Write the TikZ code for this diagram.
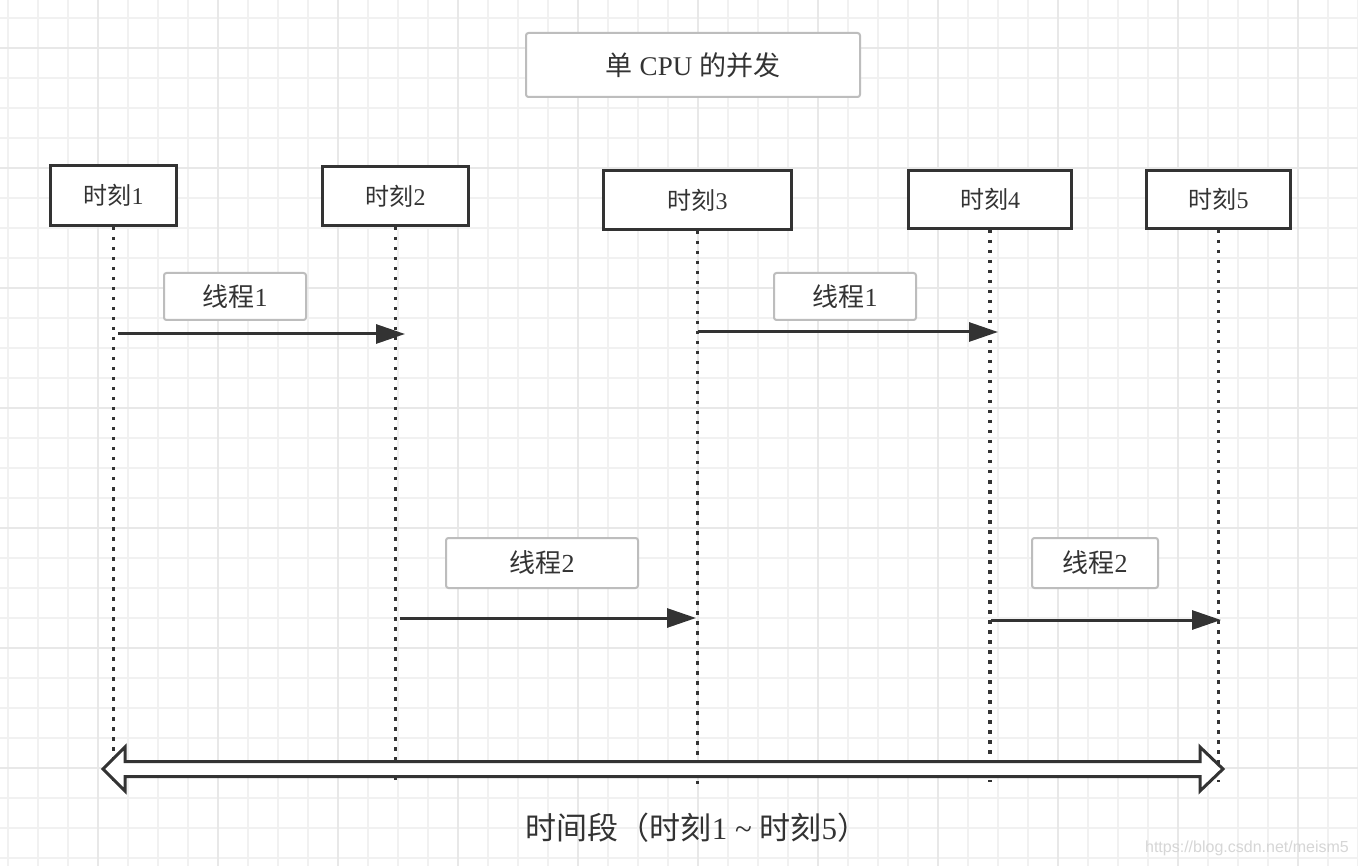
\documentclass[tikz,border=0pt]{standalone}
\usepackage{fontspec}
\setmainfont{Liberation Serif}
\newfontfamily\cjk{Noto Sans CJK SC}
\newfontfamily\wmfont{Liberation Sans}
\usetikzlibrary{arrows.meta,calc}
\definecolor{gridminor}{HTML}{F1F1F1}
\definecolor{gridmajor}{HTML}{E8E8E8}
\definecolor{boxc}{HTML}{333333}
\definecolor{lblc}{HTML}{BDBDBD}
\definecolor{wmc}{HTML}{D6D6D6}
\tikzset{
  gminor/.style={draw=gridminor, line width=1.2pt},
  gmajor/.style={draw=gridmajor, line width=1.4pt},
  tbox/.style={draw=boxc, line width=3pt, fill=white, inner sep=0pt, text=boxc, font=\fontsize{24}{28}\selectfont},
  lbox/.style={draw=lblc, line width=2pt, rounded corners=2.5pt, fill=white, inner sep=0pt, text=boxc, font=\fontsize{26}{30}\selectfont},
  lifeline/.style={draw=boxc, line width=3.5pt, dash pattern=on 3.5pt off 6.5pt},
  msg/.style={draw=boxc, line width=3pt, -{Triangle[length=29pt,width=19pt]}},
  dblarrow/.style={draw=boxc, line width=3pt, fill=white, line join=miter},
}
\begin{document}
\begin{tikzpicture}[x=1pt,y=-1pt]
\useasboundingbox (0,0) rectangle (1358,866);
\fill[white] (0,0) rectangle (1358,866);
% grid
\foreach \x in {8,38,...,1358} \draw[gminor] (\x,0) -- (\x,866);
\foreach \y in {18,48,...,866} \draw[gminor] (0,\y) -- (1358,\y);
\foreach \x in {98,218,...,1358} \draw[gmajor] (\x,0) -- (\x,866);
\foreach \y in {48,168,...,866} \draw[gmajor] (0,\y) -- (1358,\y);

% time boxes
\node[tbox, minimum width=126pt, minimum height=60pt] (t1) at (113.5,195.5) {{\cjk 时刻}1};
\node[tbox, minimum width=146pt, minimum height=59pt] (t2) at (395.5,196) {{\cjk 时刻}2};
\node[tbox, minimum width=188pt, minimum height=59pt] (t3) at (697.5,200) {{\cjk 时刻}3};
\node[tbox, minimum width=163pt, minimum height=58pt] (t4) at (990,199.5) {{\cjk 时刻}4};
\node[tbox, minimum width=144pt, minimum height=58pt] (t5) at (1218.5,199.5) {{\cjk 时刻}5};

% lifeline ends
\coordinate (e1) at (t1.south |- 0,782);
\coordinate (e2) at (t2.south |- 0,780);
\coordinate (e3) at (t3.south |- 0,784);
\coordinate (e4) at (t4.south |- 0,782);
\coordinate (e5) at (t5.south |- 0,782);
\draw[lifeline] (t1.south) -- (e1);
\draw[lifeline] (t2.south) -- (e2);
\draw[lifeline] (t3.south) -- (e3);
\draw[lifeline] (t4.south) -- (e4);
\draw[lifeline] (t5.south) -- (e5);

% time span double arrow
\coordinate (dl) at (103,769);
\coordinate (dr) at (1223,769);
\draw[dblarrow] (dl) -- (125,747) -- (125,761.5) -- (1200,761.5) -- (1200,747) -- (dr)
  -- (1200,791) -- (1200,776.5) -- (125,776.5) -- (125,791) -- cycle;

% messages
\draw[msg] ($(t1.south |- 0,334)+(4.5,0)$) -- ($(t2.south |- 0,334)+(9.5,0)$);
\draw[msg] (t3.south |- 0,332) -- ($(t4.south |- 0,332)+(8,0)$);
\draw[msg] ($(t2.south |- 0,618)+(4.5,0)$) -- ($(t3.south |- 0,618)+(-1.5,0)$);
\draw[msg] ($(t4.south |- 0,620)+(1,0)$) -- ($(t5.south |- 0,620)+(2.5,0)$);

% thread labels
\node[lbox, minimum width=142pt, minimum height=47pt] (th1a) at (235,296.5) {{\cjk 线程}1};
\node[lbox, minimum width=142pt, minimum height=47pt] (th1b) at (845,296.5) {{\cjk 线程}1};
\node[lbox, minimum width=192pt, minimum height=50pt] (th2a) at (542,563) {{\cjk 线程}2};
\node[lbox, minimum width=126pt, minimum height=50pt] (th2b) at (1095,563) {{\cjk 线程}2};

% title
\node[lbox, minimum width=334pt, minimum height=64pt, font=\fontsize{27}{32}\selectfont] (title) at (693,65) {{\cjk 单} CPU {\cjk 的并发}};

% bottom caption
\node[text=boxc, inner sep=0pt, font=\fontsize{31}{36}\selectfont] (cap) at (697,828) {{\cjk 时间段（时刻}1 \textasciitilde{} {\cjk 时刻}5{\cjk ）}};

% watermark
\node[text=wmc, inner sep=0pt, anchor=east, font=\wmfont\fontsize{16}{19}\selectfont] (wm) at (1349,848) {https://blog.csdn.net/meism5};
\end{tikzpicture}
\end{document}
